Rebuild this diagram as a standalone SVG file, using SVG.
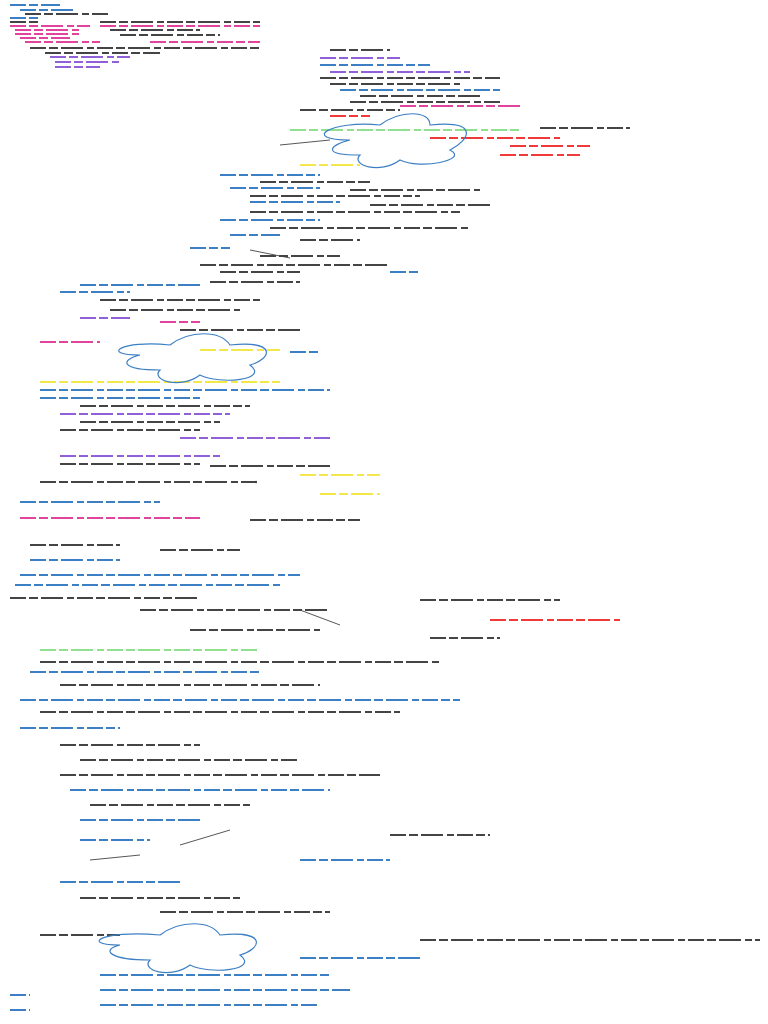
<svg xmlns="http://www.w3.org/2000/svg" width="768" height="1024" viewBox="0 0 768 1024">
<style>
line{stroke-width:2.2;stroke-dasharray:16 3 9 3 22 4 7 3;fill:none}
.k{stroke:#444}.b{stroke:#3d7fc4}.m{stroke:#e0449c}.p{stroke:#9060d8}.r{stroke:#f03a3a}.y{stroke:#f2e84a}.g{stroke:#8fe08f}
.blob{fill:none;stroke:#3d7fc4;stroke-width:1.2}
.c{fill:none;stroke:#444;stroke-width:0.9}
</style>
<rect width="768" height="1024" fill="#fff"/>
<g id="scribbles">
<line class="b" x1="10" y1="5" x2="60" y2="5"/><line class="b" x1="20" y1="10" x2="75" y2="10"/>
<line class="k" x1="25" y1="14" x2="110" y2="14"/><line class="b" x1="10" y1="18" x2="40" y2="18"/>
<line class="k" x1="10" y1="22" x2="40" y2="22"/><line class="m" x1="10" y1="26" x2="90" y2="26"/><line class="k" x1="100" y1="22" x2="260" y2="22"/>
<line class="m" x1="100" y1="26" x2="260" y2="26"/><line class="m" x1="15" y1="30" x2="80" y2="30"/><line class="k" x1="110" y1="30" x2="200" y2="30"/>
<line class="m" x1="15" y1="34" x2="80" y2="34"/><line class="k" x1="120" y1="35" x2="220" y2="35"/><line class="m" x1="20" y1="38" x2="70" y2="38"/>
<line class="m" x1="25" y1="42" x2="100" y2="42"/><line class="m" x1="150" y1="42" x2="260" y2="42"/><line class="k" x1="30" y1="48" x2="260" y2="48"/>
<line class="k" x1="45" y1="53" x2="160" y2="53"/><line class="p" x1="50" y1="57" x2="130" y2="57"/><line class="p" x1="55" y1="62" x2="120" y2="62"/><line class="p" x1="55" y1="67" x2="100" y2="67"/>
<line class="k" x1="330" y1="50" x2="390" y2="50"/><line class="p" x1="320" y1="58" x2="400" y2="58"/><line class="b" x1="320" y1="65" x2="430" y2="65"/>
<line class="p" x1="330" y1="72" x2="470" y2="72"/><line class="k" x1="320" y1="78" x2="500" y2="78"/><line class="k" x1="330" y1="84" x2="460" y2="84"/>
<line class="b" x1="340" y1="90" x2="500" y2="90"/><line class="k" x1="360" y1="96" x2="480" y2="96"/><line class="k" x1="350" y1="102" x2="500" y2="102"/>
<line class="m" x1="400" y1="106" x2="520" y2="106"/><line class="k" x1="300" y1="110" x2="400" y2="110"/><line class="r" x1="330" y1="116" x2="370" y2="116"/>
<line class="g" x1="290" y1="130" x2="520" y2="130"/><line class="k" x1="540" y1="128" x2="630" y2="128"/><line class="r" x1="430" y1="138" x2="560" y2="138"/>
<line class="r" x1="510" y1="146" x2="590" y2="146"/><line class="r" x1="500" y1="155" x2="580" y2="155"/><line class="y" x1="300" y1="165" x2="360" y2="165"/>
<line class="b" x1="220" y1="175" x2="320" y2="175"/><line class="k" x1="260" y1="182" x2="370" y2="182"/><line class="b" x1="230" y1="188" x2="320" y2="188"/>
<line class="k" x1="350" y1="190" x2="480" y2="190"/><line class="k" x1="250" y1="196" x2="420" y2="196"/><line class="b" x1="250" y1="202" x2="340" y2="202"/>
<line class="k" x1="370" y1="205" x2="490" y2="205"/><line class="k" x1="250" y1="212" x2="460" y2="212"/><line class="b" x1="220" y1="220" x2="320" y2="220"/>
<line class="k" x1="270" y1="228" x2="470" y2="228"/><line class="b" x1="230" y1="235" x2="280" y2="235"/><line class="k" x1="300" y1="240" x2="360" y2="240"/>
<line class="b" x1="190" y1="248" x2="230" y2="248"/><line class="k" x1="260" y1="256" x2="340" y2="256"/><line class="k" x1="200" y1="265" x2="390" y2="265"/>
<line class="k" x1="220" y1="272" x2="300" y2="272"/><line class="b" x1="390" y1="272" x2="420" y2="272"/><line class="b" x1="80" y1="285" x2="200" y2="285"/>
<line class="k" x1="210" y1="282" x2="300" y2="282"/><line class="b" x1="60" y1="292" x2="130" y2="292"/><line class="k" x1="100" y1="300" x2="260" y2="300"/>
<line class="k" x1="110" y1="310" x2="240" y2="310"/><line class="p" x1="80" y1="318" x2="130" y2="318"/><line class="m" x1="160" y1="322" x2="200" y2="322"/>
<line class="k" x1="180" y1="330" x2="300" y2="330"/><line class="m" x1="40" y1="342" x2="100" y2="342"/><line class="y" x1="200" y1="350" x2="280" y2="350"/>
<line class="b" x1="290" y1="352" x2="320" y2="352"/><line class="y" x1="40" y1="382" x2="280" y2="382"/><line class="b" x1="40" y1="390" x2="330" y2="390"/>
<line class="b" x1="40" y1="398" x2="200" y2="398"/><line class="k" x1="80" y1="406" x2="250" y2="406"/><line class="p" x1="60" y1="414" x2="230" y2="414"/>
<line class="k" x1="80" y1="422" x2="220" y2="422"/><line class="k" x1="60" y1="430" x2="200" y2="430"/><line class="p" x1="180" y1="438" x2="330" y2="438"/>
<line class="p" x1="60" y1="456" x2="220" y2="456"/><line class="k" x1="60" y1="464" x2="200" y2="464"/><line class="k" x1="210" y1="466" x2="330" y2="466"/>
<line class="y" x1="300" y1="475" x2="380" y2="475"/><line class="k" x1="40" y1="482" x2="260" y2="482"/><line class="y" x1="320" y1="494" x2="380" y2="494"/>
<line class="b" x1="20" y1="502" x2="160" y2="502"/><line class="m" x1="20" y1="518" x2="200" y2="518"/><line class="k" x1="250" y1="520" x2="360" y2="520"/>
<line class="k" x1="30" y1="545" x2="120" y2="545"/><line class="k" x1="160" y1="550" x2="240" y2="550"/><line class="b" x1="30" y1="560" x2="120" y2="560"/>
<line class="b" x1="20" y1="575" x2="300" y2="575"/><line class="b" x1="15" y1="585" x2="280" y2="585"/><line class="k" x1="10" y1="598" x2="200" y2="598"/>
<line class="k" x1="140" y1="610" x2="330" y2="610"/><line class="k" x1="420" y1="600" x2="560" y2="600"/><line class="r" x1="490" y1="620" x2="620" y2="620"/>
<line class="k" x1="190" y1="630" x2="320" y2="630"/><line class="k" x1="430" y1="638" x2="500" y2="638"/><line class="g" x1="40" y1="650" x2="260" y2="650"/>
<line class="k" x1="40" y1="662" x2="440" y2="662"/><line class="b" x1="30" y1="672" x2="260" y2="672"/><line class="k" x1="60" y1="685" x2="320" y2="685"/>
<line class="b" x1="20" y1="700" x2="460" y2="700"/><line class="k" x1="40" y1="712" x2="400" y2="712"/><line class="b" x1="20" y1="728" x2="120" y2="728"/>
<line class="k" x1="60" y1="745" x2="200" y2="745"/><line class="k" x1="80" y1="760" x2="300" y2="760"/><line class="k" x1="60" y1="775" x2="380" y2="775"/>
<line class="b" x1="70" y1="790" x2="330" y2="790"/><line class="k" x1="90" y1="805" x2="250" y2="805"/><line class="b" x1="80" y1="820" x2="200" y2="820"/>
<line class="b" x1="80" y1="840" x2="150" y2="840"/><line class="k" x1="390" y1="835" x2="490" y2="835"/><line class="b" x1="300" y1="860" x2="390" y2="860"/>
<line class="b" x1="60" y1="882" x2="180" y2="882"/><line class="k" x1="80" y1="898" x2="240" y2="898"/><line class="k" x1="160" y1="912" x2="330" y2="912"/>
<line class="k" x1="40" y1="935" x2="120" y2="935"/><line class="k" x1="420" y1="940" x2="760" y2="940"/><line class="b" x1="300" y1="958" x2="420" y2="958"/>
<line class="b" x1="100" y1="975" x2="330" y2="975"/><line class="b" x1="100" y1="990" x2="350" y2="990"/><line class="b" x1="100" y1="1005" x2="320" y2="1005"/>
<line class="b" x1="10" y1="995" x2="30" y2="995"/><line class="b" x1="10" y1="1010" x2="30" y2="1010"/>
</g>
<g id="shapes">
<path class="blob" d="M350 140 C300 140 330 120 380 125 C400 110 430 110 430 125 C480 120 470 140 450 150 C470 160 420 170 400 160 C380 175 350 165 360 155 C320 155 330 145 350 140Z"/>
<path class="blob" d="M140 355 C100 355 120 340 170 345 C190 330 220 330 230 345 C280 340 270 360 250 365 C270 380 220 385 200 375 C180 390 150 380 160 370 C120 370 120 360 140 355Z"/>
<path class="blob" d="M120 945 C80 945 100 930 160 935 C180 920 210 920 220 935 C270 930 260 950 240 955 C260 970 210 975 190 965 C170 980 140 970 150 960 C110 960 100 950 120 945Z"/>
<path class="c" d="M280 145 L330 140 M250 250 L290 258 M300 610 L340 625 M180 845 L230 830 M90 860 L140 855"/>
</g>
</svg>
